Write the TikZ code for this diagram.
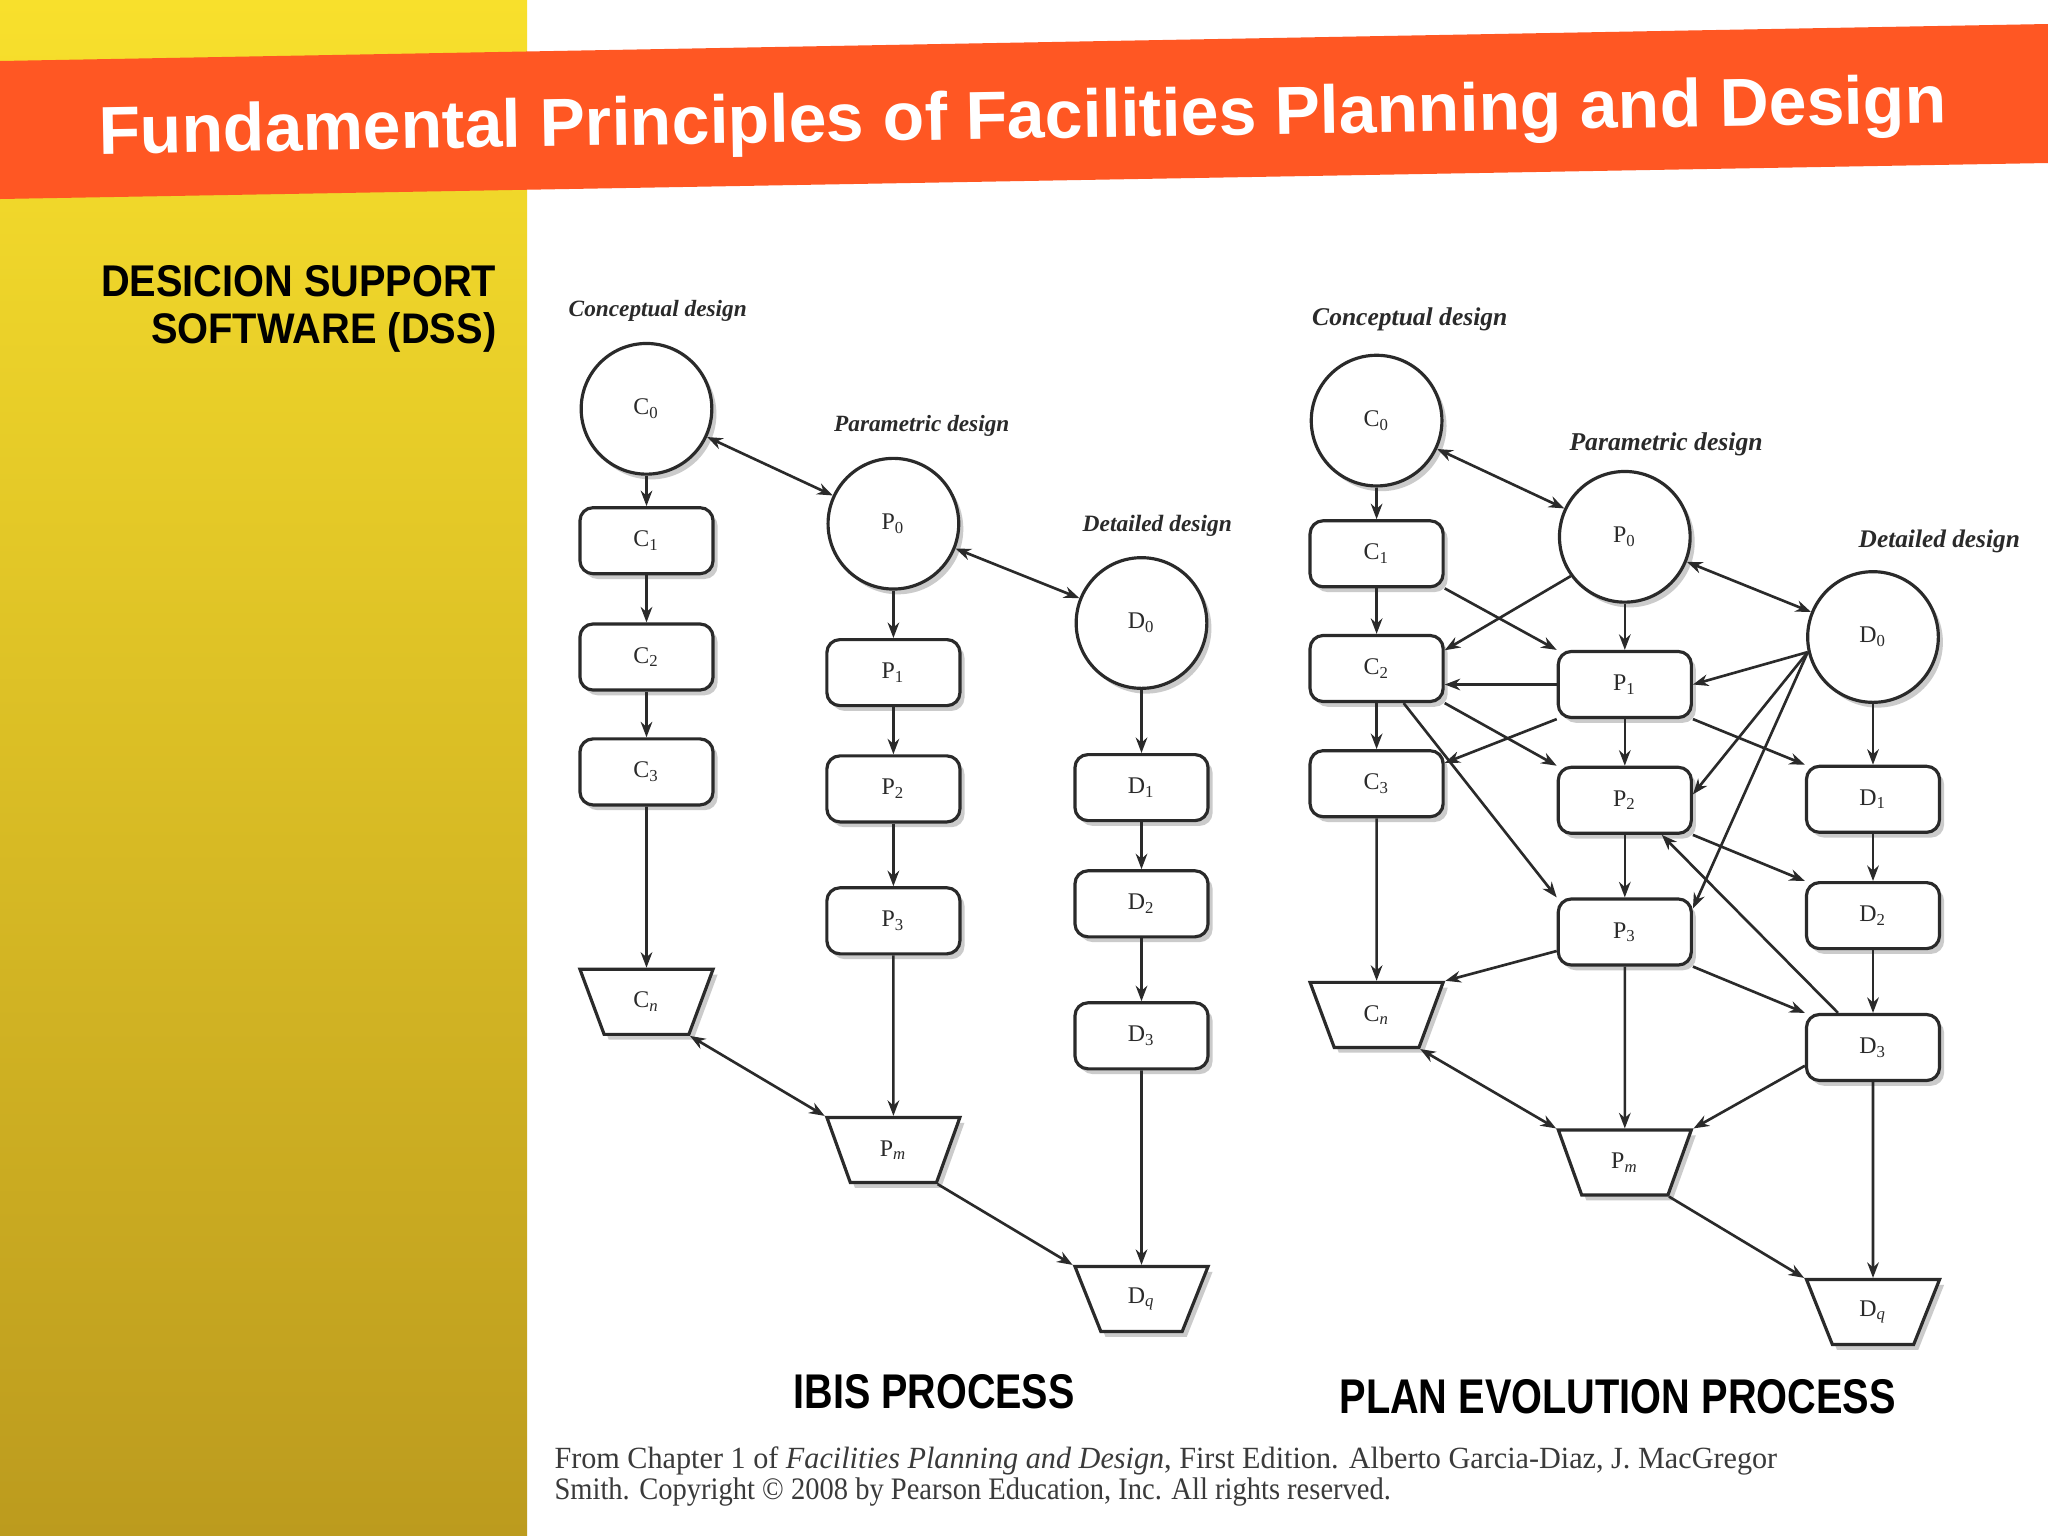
\documentclass[tikz,border=0pt]{standalone}
\usepackage{fontspec}
\usepackage{graphicx}
\setmainfont{Liberation Serif}
\newfontfamily\hvfont{Liberation Sans}
\usetikzlibrary{shapes.geometric,shadows,arrows.meta,calc}
\definecolor{ink}{HTML}{2A2A2A}
\definecolor{bandcol}{HTML}{FF5723}
\definecolor{ytop}{HTML}{F8E02C}
\definecolor{ybot}{HTML}{BC9B1E}
\definecolor{foot}{HTML}{3A3A3A}
\newcommand\nfont{\fontsize{6.8pt}{7pt}\selectfont}
\begin{document}
\begin{tikzpicture}[x=0.01cm,y=-0.01cm,
  shadowed/.style={drop shadow={shadow xshift=1.3pt,shadow yshift=-1.5pt,fill=black!45,opacity=0.45}},
  box/.style={draw=ink,line width=0.9pt,fill=white,rounded corners=3.7pt,minimum width=1.33cm,minimum height=0.66cm,inner sep=0pt,font=\nfont,text=ink,shadowed},
  circ/.style={circle,draw=ink,line width=0.9pt,fill=white,minimum size=1.306cm,inner sep=0pt,font=\nfont,text=ink,shadowed},
  trap/.style={trapezium,trapezium left angle=111,trapezium right angle=111,trapezium stretches=true,draw=ink,line width=0.9pt,fill=white,minimum width=1.33cm,minimum height=0.65cm,inner sep=0pt,font=\nfont,text=ink,shadowed},
  arr/.style={draw=ink,line width=0.75pt,-{Stealth[length=4.4pt,width=3.3pt]}},
  darr/.style={draw=ink,line width=0.75pt,{Stealth[length=4.4pt,width=3.3pt]}-{Stealth[length=4.4pt,width=3.3pt]}},
  lbl/.style={anchor=base west,inner sep=0pt,text=ink,font=\bfseries\itshape}
]
\useasboundingbox (0,0) rectangle (2048,1536);
\fill[white] (0,0) rectangle (2048,1536);
\shade[top color=ytop,bottom color=ybot] (0,0) rectangle (527,1536);
\fill[bandcol] (0,61) -- (2048,24) -- (2048,163) -- (0,199) -- cycle;
\node[anchor=base,rotate=0.97,inner sep=0pt,text=white] (title) at (1023,138.4)
  {\resizebox{18.46cm}{!}{\hvfont\bfseries Fundamental Principles of Facilities Planning and Design}};
\node[anchor=base east,inner sep=0pt] (dss1) at (497,296.5) {\resizebox{3.95cm}{0.31cm}{\hvfont\bfseries DESICION SUPPORT}};
\node[anchor=base east,inner sep=0pt] (dss2) at (497,343.5) {\resizebox{3.45cm}{0.31cm}{\hvfont\bfseries SOFTWARE (DSS)}};

% ---------- left diagram (IBIS) ----------
\node[lbl] (lcl) at (568,316.8) {\resizebox{1.78cm}{!}{Conceptual design}};
\node[lbl] (lpl) at (833.5,431.8) {\resizebox{1.75cm}{!}{Parametric design}};
\node[lbl] (ldl) at (1082,531.8) {\resizebox{1.49cm}{!}{Detailed design}};
\node[circ] (LC0) at (646.5,408.8) {C\textsubscript{0}};
\node[box] (LC1) at (646.5,540.7) {C\textsubscript{1}};
\node[box] (LC2) at (646.5,657) {C\textsubscript{2}};
\node[box] (LC3) at (646.5,771.9) {C\textsubscript{3}};
\node[trap] (LCn) at (646.5,1001.8) {C\textsubscript{\itshape n}};
\node[circ] (LP0) at (893.4,523.7) {P\textsubscript{0}};
\node[box] (LP1) at (893.4,672.6) {P\textsubscript{1}};
\node[box] (LP2) at (893.4,788.9) {P\textsubscript{2}};
\node[box] (LP3) at (893.4,920.8) {P\textsubscript{3}};
\node[trap] (LPm) at (893.4,1150) {P\textsubscript{\itshape m}};
\node[circ] (LD0) at (1141.5,623) {D\textsubscript{0}};
\node[box] (LD1) at (1141.5,787.6) {D\textsubscript{1}};
\node[box] (LD2) at (1141.5,903.8) {D\textsubscript{2}};
\node[box] (LD3) at (1141.5,1035.8) {D\textsubscript{3}};
\node[trap] (LDq) at (1141.5,1299) {D\textsubscript{\itshape q}};
\draw[arr] (LC0) -- (LC1);
\draw[arr] (LC1) -- (LC2);
\draw[arr] (LC2) -- (LC3);
\draw[arr] (LC3) -- (LCn);
\draw[arr] (LP0) -- (LP1);
\draw[arr] (LP1) -- (LP2);
\draw[arr] (LP2) -- (LP3);
\draw[arr] (LP3) -- (LPm);
\draw[arr] (LD0) -- (LD1);
\draw[arr] (LD1) -- (LD2);
\draw[arr] (LD2) -- (LD3);
\draw[arr] (LD3) -- (LDq);
\draw[darr] (LC0) -- (LP0);
\draw[darr] (LP0) -- (LD0);
\draw[darr] (LCn.bottom right corner) -- (LPm.top left corner);
\draw[arr] (LPm.bottom right corner) -- (LDq.top left corner);

% ---------- right diagram (plan evolution) ----------
\node[lbl] (rcl) at (1311.5,325.7) {\resizebox{1.95cm}{!}{Conceptual design}};
\node[lbl] (rpl) at (1568.8,450.7) {\resizebox{1.93cm}{!}{Parametric design}};
\node[lbl] (rdl) at (1858,547.9) {\resizebox{1.61cm}{!}{Detailed design}};
\node[circ] (RC0) at (1376.6,420.6) {C\textsubscript{0}};
\node[box] (RC1) at (1376.6,553.8) {C\textsubscript{1}};
\node[box] (RC2) at (1376.6,668.5) {C\textsubscript{2}};
\node[box] (RC3) at (1376.6,783.7) {C\textsubscript{3}};
\node[trap] (RCn) at (1376.6,1014.9) {C\textsubscript{\itshape n}};
\node[circ] (RP0) at (1624.8,536.8) {P\textsubscript{0}};
\node[box] (RP1) at (1624.8,684.5) {P\textsubscript{1}};
\node[box] (RP2) at (1624.8,800.3) {P\textsubscript{2}};
\node[box] (RP3) at (1624.8,932) {P\textsubscript{3}};
\node[trap] (RPm) at (1624.8,1162.5) {P\textsubscript{\itshape m}};
\node[circ] (RD0) at (1873,637) {D\textsubscript{0}};
\node[box] (RD1) at (1873,799.3) {D\textsubscript{1}};
\node[box] (RD2) at (1873,915.6) {D\textsubscript{2}};
\node[box] (RD3) at (1873,1047.5) {D\textsubscript{3}};
\node[trap] (RDq) at (1873,1312) {D\textsubscript{\itshape q}};
\draw[arr] (RC0) -- (RC1);
\draw[arr] (RC1) -- (RC2);
\draw[arr] (RC2) -- (RC3);
\draw[arr] (RC3) -- (RCn);
\draw[arr] (RP0) -- (RP1);
\draw[arr] (RP1) -- (RP2);
\draw[arr] (RP2) -- (RP3);
\draw[arr] (RP3) -- (RPm);
\draw[arr] (RD0) -- (RD1);
\draw[arr] (RD1) -- (RD2);
\draw[arr] (RD2) -- (RD3);
\draw[arr] (RD3) -- (RDq);
\draw[darr] (RC0) -- (RP0);
\draw[darr] (RP0) -- (RD0);
\draw[arr] (RP0.216) -- (RC2.15);
\draw[arr] (RC1.south east) -- (RP1.north west);
\draw[arr] (RP1.west) -- (RP1.west -| RC2.east);
\draw[arr] (RC2.south east) -- (RP2.north west);
\draw[arr] (RP1.south west) -- (RC3.17);
\draw[arr] (RC2.-52) -- (RP3.north west);
\draw[arr] (RD0.193) -- (RP1.east);
\draw[arr] (RD0.193) -- (RP2.5);
\draw[arr] (RD0.193) -- (RP3.19);
\draw[arr] (RP1.south east) -- (RD1.north west);
\draw[arr] (RP2.south east) -- (RD2.north west);
\draw[arr] ($(RD3.north)+(-35,0)$) -- ($(RP2.south)+(37,0)$);
\draw[arr] (RP3.south east) -- (RD3.north west);
\draw[arr] ($(RP3.west)+(0,19)$) -- (RCn.top right corner);
\draw[darr] (RCn.bottom right corner) -- (RPm.top left corner);
\draw[arr] (RD3.195) -- (RPm.top right corner);
\draw[arr] (RPm.bottom right corner) -- (RDq.top left corner);

% ---------- captions ----------
\node[anchor=base west,inner sep=0pt] (ibis) at (792.8,1408) {\resizebox{2.81cm}{0.34cm}{\hvfont\bfseries IBIS PROCESS}};
\node[anchor=base west,inner sep=0pt] (plan) at (1338.8,1413) {\resizebox{5.56cm}{0.34cm}{\hvfont\bfseries PLAN EVOLUTION PROCESS}};
\node[anchor=base west,inner sep=0pt,text=foot] (foot1) at (553.8,1468) {\resizebox{12.22cm}{0.217cm}{From Chapter 1 of \textit{Facilities Planning and Design}, First Edition. Alberto Garcia-Diaz, J. MacGregor}};
\node[anchor=base west,inner sep=0pt,text=foot] (foot2) at (553.8,1499.4) {\resizebox{8.36cm}{0.217cm}{Smith. Copyright \textcopyright\ 2008 by Pearson Education, Inc. All rights reserved.}};
\end{tikzpicture}
\end{document}
